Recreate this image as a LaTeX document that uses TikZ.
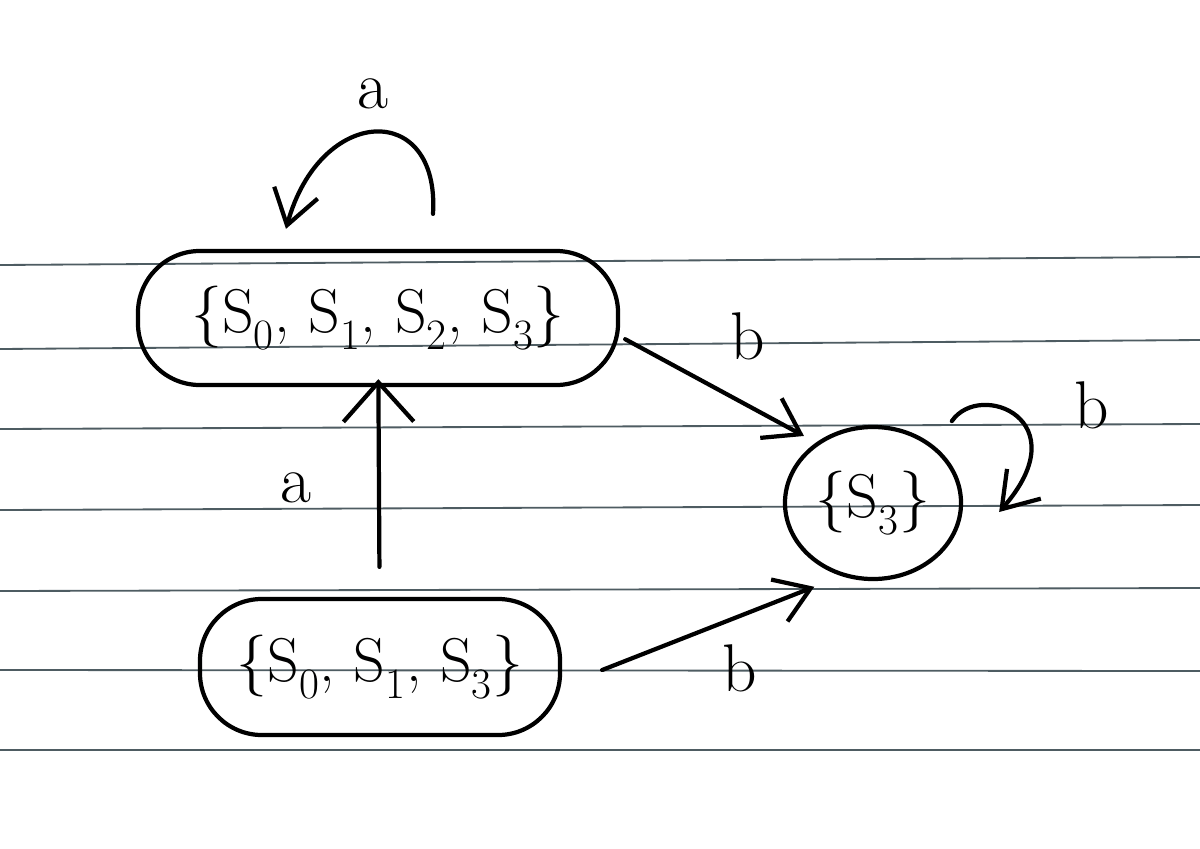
\documentclass[tikz,border=0pt]{standalone}
\usepackage{fontspec}
\usetikzlibrary{arrows.meta,shapes.geometric}
\definecolor{ruled}{RGB}{78,92,98}
\begin{document}
\begin{tikzpicture}[x=0.025cm,y=-0.025cm,
  ink/.style={line width=3pt, line cap=round, line join=round, black},
  paperline/.style={line width=1.3pt, color=ruled},
  state/.style={ellipse, draw, ink, inner sep=0pt},
  setstate/.style={rectangle, rounded corners=1.55cm, draw, ink, inner sep=0pt},
  lbl/.style={font=\fontsize{48}{52}\selectfont, inner sep=0pt},
  arr/.style={ink, -{Straight Barb[length=24pt,width=32pt]}},
  arrwide/.style={ink, -{Straight Barb[length=28pt,width=50pt]}}]
\fill[white] (0,0) rectangle (1200,848);
\useasboundingbox (0,0) rectangle (1200,848);
% ruled paper
\foreach \yl/\yr in {265/257,349/340,429/424,510/505,591/588,670/671,750/750}
  \draw[paperline] (0,\yl) -- (1200,\yr);
% states
\node[setstate, minimum width=12cm, minimum height=3.35cm] (top) at (378,318)
  {\fontsize{44}{48}\selectfont\{S\textsubscript{0}, S\textsubscript{1}, S\textsubscript{2}, S\textsubscript{3}\}};
\node[state, minimum width=4.4cm, minimum height=3.8cm] (s3) at (873,503)
  {\fontsize{44}{48}\selectfont\{S\textsubscript{3}\}};
\node[setstate, minimum width=9cm, minimum height=3.4cm] (bot) at (380,667)
  {\fontsize{44}{48}\selectfont\{S\textsubscript{0}, S\textsubscript{1}, S\textsubscript{3}\}};
% transitions
\draw[arr] ([shift={(55,-35)}]top.north) .. controls (440,100) and (320,105) .. ([shift={(-92,-20)}]top.north);
\draw[arrwide, shorten <=0.75cm, shorten >=-0.2cm] (bot) -- (top);
\draw[arr] ([shift={(5,0)}]top.-5) -- ([shift={(-10,-8)}]s3.135);
\draw[arr] ([shift={(40,3)}]bot.east) -- ([shift={(-12,17)}]s3.235);
\draw[arr] ([shift={(21,-22)}]s3.46) .. controls (980,380) and (1080,420) .. ([shift={(36,9)}]s3.east);
% labels
\node[lbl] (la1) at (373,94) {a};
\node[lbl] (la2) at (296,488) {a};
\node[lbl] (lb1) at (748,336) {b};
\node[lbl] (lb2) at (1092,405) {b};
\node[lbl] (lb3) at (740,668) {b};
\end{tikzpicture}
\end{document}
